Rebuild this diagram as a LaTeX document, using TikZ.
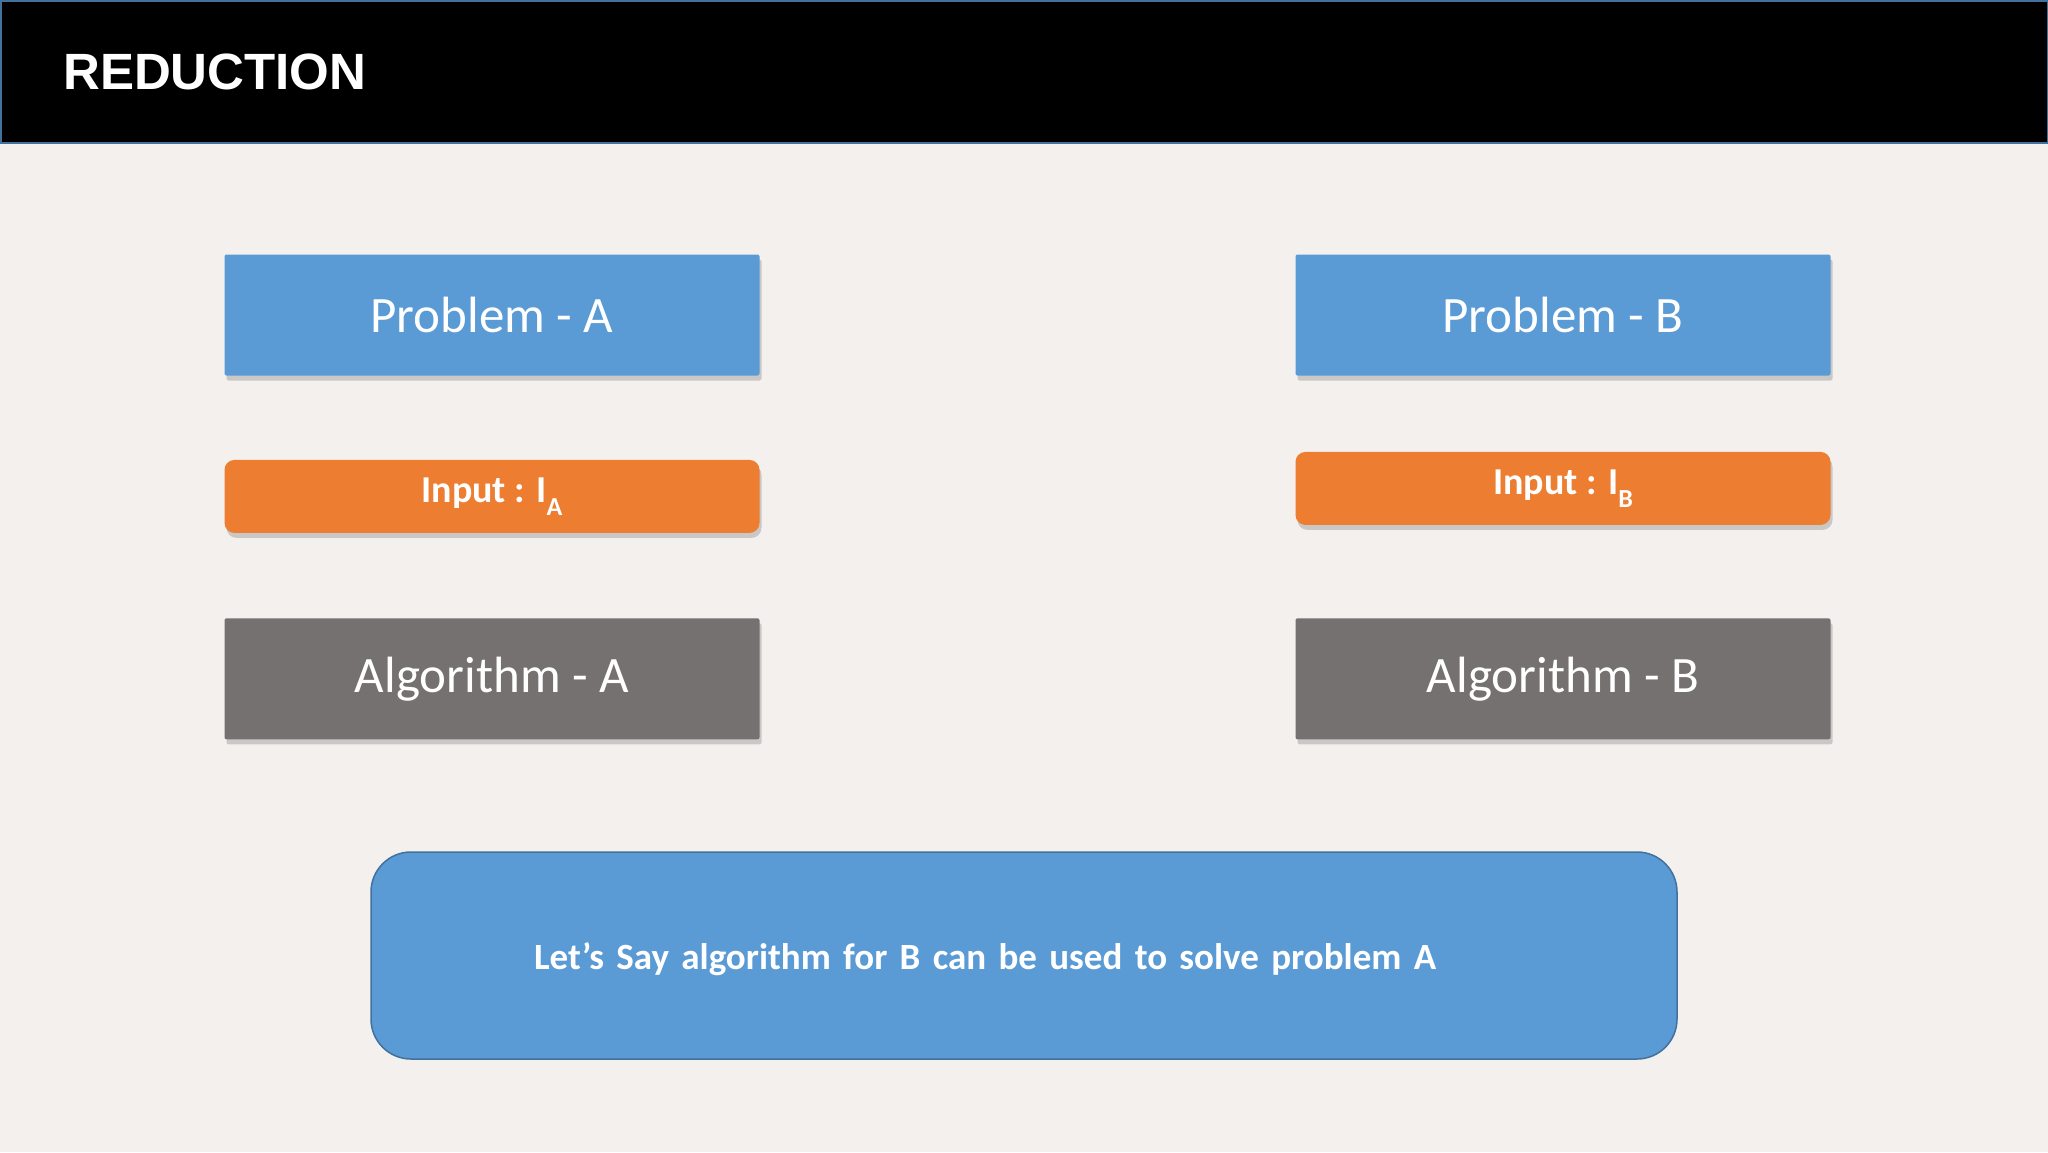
\documentclass[tikz,border=0pt]{standalone}
\usepackage{fontspec}
\setmainfont{Carlito}
\newfontfamily\titlefont{Liberation Sans}
\usetikzlibrary{positioning, shadows}

\definecolor{probblue}{HTML}{5B9BD5}
\definecolor{inorange}{HTML}{ED7D31}
\definecolor{alggray}{HTML}{767171}
\definecolor{pagebg}{HTML}{F3F0EE}
\definecolor{edgeblue}{HTML}{41719C}

\newcommand{\insub}[1]{\raisebox{-13pt}{\fontsize{26}{26}\selectfont #1}}

\begin{document}
\begin{tikzpicture}[
      x=1pt, y=-1pt,
      problem/.style = {shape=rectangle, rounded corners=2pt,
        fill=probblue, text=white, inner sep=0pt,
        minimum width=535pt, minimum height=121pt,
        font=\fontsize{51}{60}\selectfont,
        drop shadow={shadow xshift=2pt, shadow yshift=-5pt, opacity=0.35}
      },
      input/.style = {problem, rounded corners=10pt, fill=inorange,
        minimum height=73pt, font=\fontsize{38}{44}\bfseries
      },
      algo/.style = {problem, fill=alggray},
      note/.style = {shape=rectangle, rounded corners=40pt,
        fill=probblue, draw=edgeblue, line width=1.5pt, text=white,
        inner xsep=163pt, inner ysep=0pt, text width=980pt, align=left,
        minimum height=207pt, font=\fontsize{37}{44}\bfseries
      },
      heading/.style = {text=white, inner sep=0pt, anchor=base west,
        font=\titlefont\fontsize{51}{60}\bfseries
      }
    ]
    \useasboundingbox (0,0) rectangle (2048,1152);
    \fill[pagebg] (0,0) rectangle (2048,1152);

    % title bar
    \draw[fill=black, draw=edgeblue, line width=1.5pt] (0.75,0.75) rectangle (2047.25,143);
    \node[heading] (title) at (63,89) {REDUCTION};

    % left column
    \node[problem] (probA) at (492,315) {Problem - A};
    \node[input, below=84pt of probA] (inA) {Input : I\insub{A}};
    \node[algo, below=85pt of inA] (algA) {Algorithm - A};

    % right column
    \node[problem] (probB) at (1563,315) {Problem - B};
    \node[input, below=76pt of probB] (inB) {Input : I\insub{B}};
    \node[algo, below=93pt of inB] (algB) {Algorithm - B};

    \node[note] (claim) at (1024,955.5) {\raisebox{-4pt}[\height][\depth]{Let’s Say algorithm for B can be used to solve problem A}};
\end{tikzpicture}
\end{document}
